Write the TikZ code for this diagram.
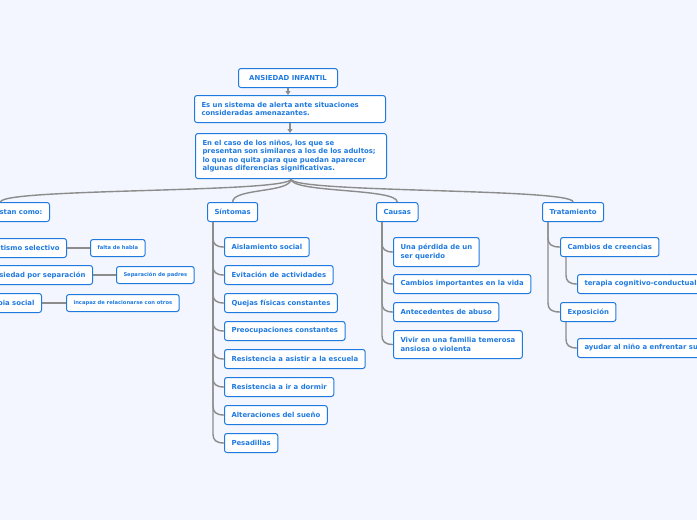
\documentclass[tikz,border=0pt]{standalone}
\usepackage{fontspec}
\setmainfont{DejaVu Sans}
\usetikzlibrary{calc,arrows.meta}
\definecolor{bg}{HTML}{F3F6FE}
\definecolor{bl}{HTML}{1F7AE0}
\definecolor{ln}{HTML}{8C8C8C}
\tikzset{
 box/.style={draw=bl,fill=white,rounded corners=2.5pt,line width=1pt,text=bl,font=\fontsize{6.9}{8.3}\selectfont\bfseries,inner xsep=7pt,inner ysep=3pt,minimum height=19pt,anchor=north west,align=left},
 sbox/.style={box,font=\fontsize{5.2}{6}\selectfont\bfseries,minimum height=17pt},
 conn/.style={draw=ln,line width=1.4pt},
 arr/.style={conn,-{Triangle[length=4pt,width=5pt]}}
}
\newcommand{\branchto}[2]{\draw[conn] ($(#1.south west)+(6pt,0)$) coordinate (t) -- ($(t |- #2.west)+(0,-9)$) .. controls ($(t |- #2.west)+(0,-3)$) and ($(t |- #2.west)+(3,0)$) .. (#2.west);}
\begin{document}
\begin{tikzpicture}[x=1pt,y=-1pt]
\useasboundingbox[fill=bg] (0,0) rectangle (697,520);
\node[box,minimum width=99pt,align=center] (root) at (238,68) {ANSIEDAD INFANTIL};
\node[box,text width=177pt,minimum height=27pt] (def) at (194,95) {Es un sistema de alerta ante situaciones\\consideradas amenazantes.};
\node[box,text width=177pt,minimum height=45pt] (caso) at (195,133) {En el caso de los niños, los que se\\presentan son similares a los de los adultos;\\lo que no quita para que puedan aparecer\\algunas diferencias significativas.};
\draw[arr] (root.south) -- (def.north -| root.south);
\draw[arr] (def.south -| 290,0) -- (caso.north -| 290,0);

\node[box,anchor=north east] (man) at (50,202) {Se manifiestan como:};
\node[box] (sin) at (207,202) {Síntomas};
\node[box] (cau) at (376,202) {Causas};
\node[box] (tra) at (542,202) {Tratamiento};
\foreach \n in {man,sin,cau,tra}
  \draw[conn] (caso.south) .. controls ($(caso.south)+(0,14)$) and ($(\n.north)+(0,-14)$) .. (\n.north);

\node[box,anchor=north east] (mut) at (67,238) {Mutismo selectivo};
\node[sbox] (fal) at (90,239) {falta de habla};
\node[box,anchor=north east] (ans) at (93,265) {Ansiedad por separación};
\node[sbox] (sep) at (116,266) {Separación de padres};
\node[box,anchor=north east] (fob) at (42,293) {Fobia social};
\node[sbox] (inc) at (66,294) {incapaz de relacionarse con otros};
\draw[conn] (mut.east) -- (fal.west);
\draw[conn] (ans.east) -- (sep.west);
\draw[conn] (fob.east) -- (inc.west);

\node[box] (s1) at (224,237) {Aislamiento social};
\node[box] (s2) at (224,265) {Evitación de actividades};
\node[box] (s3) at (224,293) {Quejas físicas constantes};
\node[box] (s4) at (224,321) {Preocupaciones constantes};
\node[box] (s5) at (224,349) {Resistencia a asistir a la escuela};
\node[box] (s6) at (224,377) {Resistencia a ir a dormir};
\node[box] (s7) at (224,405) {Alteraciones del sueño};
\node[box] (s8) at (224,433) {Pesadillas};
\foreach \c in {s1,s2,s3,s4,s5,s6,s7,s8} {\branchto{sin}{\c}}

\node[box,minimum height=29pt] (c1) at (393,237) {Una pérdida de un\\ser querido};
\node[box] (c2) at (393,274) {Cambios importantes en la vida};
\node[box] (c3) at (393,302) {Antecedentes de abuso};
\node[box,minimum height=28pt] (c4) at (393,330) {Vivir en una familia temerosa\\ansiosa o violenta};
\foreach \c in {c1,c2,c3,c4} {\branchto{cau}{\c}}

\node[box] (t1) at (560,237) {Cambios de creencias};
\node[box] (t2) at (577,274) {terapia cognitivo-conductual};
\node[box] (t3) at (560,302) {Exposición};
\node[box] (t4) at (577,338) {ayudar al niño a enfrentar sus miedos};
\branchto{tra}{t1}\branchto{tra}{t3}
\branchto{t1}{t2}\branchto{t3}{t4}
\end{tikzpicture}
\end{document}
